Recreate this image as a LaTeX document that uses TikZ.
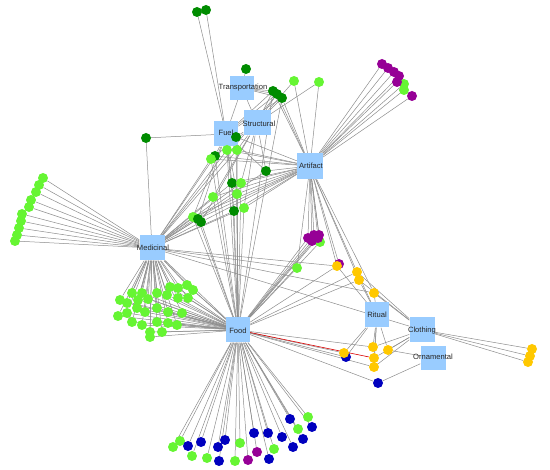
\documentclass[tikz,border=0pt]{standalone}
\usepackage{fontspec}
\setmainfont{Liberation Sans}
\pgfdeclarelayer{edges}
\pgfsetlayers{edges,main}
\definecolor{catblue}{RGB}{153,204,255}
\definecolor{lgreen}{RGB}{102,245,51}
\definecolor{dgreen}{RGB}{0,140,0}
\definecolor{npurple}{RGB}{150,0,150}
\definecolor{nyellow}{RGB}{255,200,0}
\definecolor{nblue}{RGB}{0,0,190}
\definecolor{edgegray}{RGB}{140,140,140}
\begin{document}
\begin{tikzpicture}[x=1pt,y=-1pt,
  catbox/.style={rectangle, fill=catblue, minimum width=25pt, minimum height=25pt, inner sep=0pt},
  catlab/.style={font=\fontsize{7.6}{9}\selectfont, text=black!85},
  leaf/.style={circle, minimum size=10pt, inner sep=0pt},
  nlg/.style={leaf, fill=lgreen},
  ndg/.style={leaf, fill=dgreen},
  npu/.style={leaf, fill=npurple},
  nye/.style={leaf, fill=nyellow},
  nbl/.style={leaf, fill=nblue},
  edge/.style={draw=edgegray, line width=0.5pt},
  redge/.style={draw=red!85!black, line width=0.6pt}]
\useasboundingbox (0,0) rectangle (550,470);

% ---------- categories ----------
\node[catbox, minimum width=24pt, minimum height=24pt] (Tra) at (242,88) {};
\node[catbox, minimum width=27pt] (Str) at (257,123) {};
\node[catbox, minimum width=24pt] (Fue) at (226,134) {};
\node[catbox, minimum width=26pt, minimum height=26pt] (Art) at (310,166) {};
\node[catbox] (Med) at (152,248) {};
\node[catbox, minimum width=24pt] (Foo) at (238,330) {};
\node[catbox, minimum width=24pt] (Rit) at (377,315) {};
\node[catbox] (Clo) at (422,330) {};
\node[catbox, minimum height=24pt] (Orn) at (433,358) {};

% ---------- leaves ----------
\node[ndg] (t1) at (197,12) {};
\node[ndg] (t2) at (206,10) {};
\node[ndg] (t3) at (246,69) {};
\node[ndg] (d1) at (273,91) {};
\node[ndg] (d2) at (277,94) {};
\node[ndg] (d3) at (282,98) {};
\node[nlg] (l1) at (294,81) {};
\node[nlg] (l2) at (319,82) {};

\foreach \x/\y/\c [count=\i] in {382/64/npu,388/68/npu,394/72/npu,399/76/npu,404/84/nlg,404/90/nlg,397/82/npu,412/96/npu}
  \node[\c] (ne\i) at (\x,\y) {};

\foreach \x/\y [count=\i] in {43/178,39/185,36/192,31/200,29/207,22/214,21/221,19/228,17/235,15/241}
  \node[nlg] (mf\i) at (\x,\y) {};

\node[ndg] (c1) at (146,138) {};
\node[ndg] (c2) at (236,137) {};
\node[nlg] (c3) at (227,150) {};
\node[nlg] (c4) at (237,150) {};
\node[ndg] (c5) at (215,156) {};
\node[nlg] (c6) at (211,159) {};
\node[ndg] (c7) at (266,171) {};
\node[ndg] (c8) at (232,183) {};
\node[nlg] (c9) at (241,183) {};
\node[nlg] (c10) at (237,194) {};
\node[nlg] (c11) at (213,197) {};
\node[ndg] (c12) at (234,211) {};
\node[nlg] (c13) at (244,208) {};
\node[nlg] (c14) at (193,217) {};
\node[ndg] (c15) at (198,219) {};
\node[ndg] (c16) at (201,222) {};

\node[nlg] (q6) at (320,242) {};
\foreach \x/\y [count=\i] in {308/238,314/235,319/235,312/241,318/238}
  \node[npu] (q\i) at (\x,\y) {};

\node[nlg] (v1) at (297,268) {};
\node[npu] (yp) at (339,264) {};
\node[nye] (y1) at (337,266) {};
\node[nye] (y2) at (357,272) {};
\node[nye] (y3) at (359,280) {};
\node[nye] (y4) at (374,293) {};
\node[nbl] (b1) at (346,357) {};
\node[nye] (y5) at (344,353) {};
\node[nye] (y6) at (373,347) {};
\node[nye] (y7) at (388,350) {};
\node[nye] (y8) at (374,358) {};
\node[nye] (y9) at (374,367) {};
\node[nbl] (b2) at (378,383) {};

\node[nye] (cl1) at (532,349) {};
\node[nye] (cl2) at (530,356) {};
\node[nye] (cl3) at (528,362) {};

\foreach \x/\y [count=\i] in {132/293,142/293,157/293,170/287,178/288,187/285,193/290,148/299,138/300,127/303,167/295,178/298,188/298,137/308,145/312,157/308,168/312,182/313,132/322,142/325,157/322,168/323,177/325,150/332,162/332,150/337,127/313,120/300,118/316}
  \node[nlg] (mx\i) at (\x,\y) {};

\foreach \x/\y/\c [count=\i] in {180/441/nlg,173/447/nlg,188/446/nbl,201/442/nbl,192/456/nlg,207/458/nlg,218/447/nbl,225/440/nbl,219/461/nbl,235/461/nlg,248/460/npu,240/443/nlg,254/433/nbl,268/433/nbl,257/452/npu,282/437/nbl,274/449/nlg,269/459/nbl,290/419/nbl,308/417/nlg,298/429/nlg,312/427/nbl,303/439/nbl,293/447/nbl}
  \node[\c] (bt\i) at (\x,\y) {};

% ---------- labels on top ----------
\node[catlab] at (243,88) {Transportation};
\node[catlab] at (259,124) {Structural};
\node[catlab] at (226,133) {Fuel};
\node[catlab] at (311,166) {Artifact};
\node[catlab] at (153,248) {Medicinal};
\node[catlab] at (238,331) {Food};
\node[catlab] at (377,315) {Ritual};
\node[catlab] at (422,331) {Clothing};
\node[catlab] at (433,357) {Ornamental};

% ---------- edges ----------
\begin{pgfonlayer}{edges}
\draw[edge] (t1) -- (Fue); \draw[edge] (t2) -- (Fue);
\draw[edge] (t3) -- (Tra);
\foreach \n in {d1,d2,d3} {
  \draw[edge] (\n) -- (Tra); \draw[edge] (\n) -- (Str);
  \draw[edge] (\n) -- (Fue); \draw[edge] (\n) -- (Art);}
\draw[edge] (d1) -- (Foo); \draw[edge] (d2) -- (Med); \draw[edge] (d3) -- (Foo);
\draw[edge] (Tra) -- (Fue); \draw[edge] (Tra) -- (Str);
\draw[edge] (l1) -- (Art); \draw[edge] (l1) -- (Str);
\draw[edge] (l2) -- (Art); \draw[edge] (l2) -- (Str);
\foreach \i in {1,...,8} \draw[edge] (ne\i) -- (Art);
\foreach \i in {1,...,10} \draw[edge] (mf\i) -- (Med);
\draw[edge] (c1) -- (Fue); \draw[edge] (c1) -- (Med);
\foreach \n/\a/\b/\c/\d in {c2/Fue/Str/Foo/Art, c3/Fue/Art/Med/Foo, c4/Str/Art/Foo/Med,
  c5/Fue/Med/Art/Foo, c6/Med/Art/Str/Foo, c7/Art/Fue/Str/Med, c8/Art/Med/Fue/Foo,
  c9/Art/Foo/Str/Med, c10/Art/Med/Fue/Foo, c11/Art/Med/Foo/Str, c12/Art/Fue/Med/Foo,
  c13/Art/Foo/Str/Med, c14/Art/Med/Fue/Foo, c15/Art/Foo/Fue/Med, c16/Med/Str/Art/Foo} {
  \draw[edge] (\n) -- (\a); \draw[edge] (\n) -- (\b);
  \draw[edge] (\n) -- (\c); \draw[edge] (\n) -- (\d);}
\foreach \i in {1,...,6} {\draw[edge] (q\i) -- (Art); \draw[edge] (q\i) -- (Foo);}
\draw[edge] (v1) -- (Med); \draw[edge] (v1) -- (Art); \draw[edge] (v1) -- (Foo);
\draw[edge] (yp) -- (Art);
\foreach \n/\a/\b/\c/\d in {y1/Rit/Art/Foo/Med, y2/Rit/Art/Foo/Clo, y3/Rit/Art/Clo/Foo, y4/Rit/Art/Clo/Med} {
  \draw[edge] (\n) -- (\a); \draw[edge] (\n) -- (\b);
  \draw[edge] (\n) -- (\c); \draw[edge] (\n) -- (\d);}
\draw[edge] (y5) -- (Foo); \draw[edge] (y5) -- (Rit);
\draw[edge] (b1) -- (Foo); \draw[edge] (b1) -- (Rit);
\draw[edge] (y6) -- (Rit); \draw[edge] (y6) -- (Clo); \draw[edge] (y6) -- (Foo);
\draw[edge] (y7) -- (Rit); \draw[edge] (y7) -- (Clo); \draw[edge] (y7) -- (Orn);
\draw[edge] (y8) -- (Rit); \draw[edge] (y8) -- (Clo);
\draw[edge] (y9) -- (Rit); \draw[edge] (y9) -- (Clo); \draw[edge] (y9) -- (Foo);
\draw[edge] (b2) -- (Foo); \draw[edge] (b2) -- (Orn);
\draw[edge] (Foo) -- (Med);
\draw[edge] (Med) -- (Clo);
\foreach \i in {1,2,3} \draw[edge] (cl\i) -- (Clo);
\foreach \i in {1,...,29} {\draw[edge] (mx\i) -- (Med); \draw[edge] (mx\i) -- (Foo);}
\foreach \i in {1,...,24} \draw[edge] (bt\i) -- (Foo);
\draw[redge] (Foo) -- (y8);
\end{pgfonlayer}
\end{tikzpicture}
\end{document}
